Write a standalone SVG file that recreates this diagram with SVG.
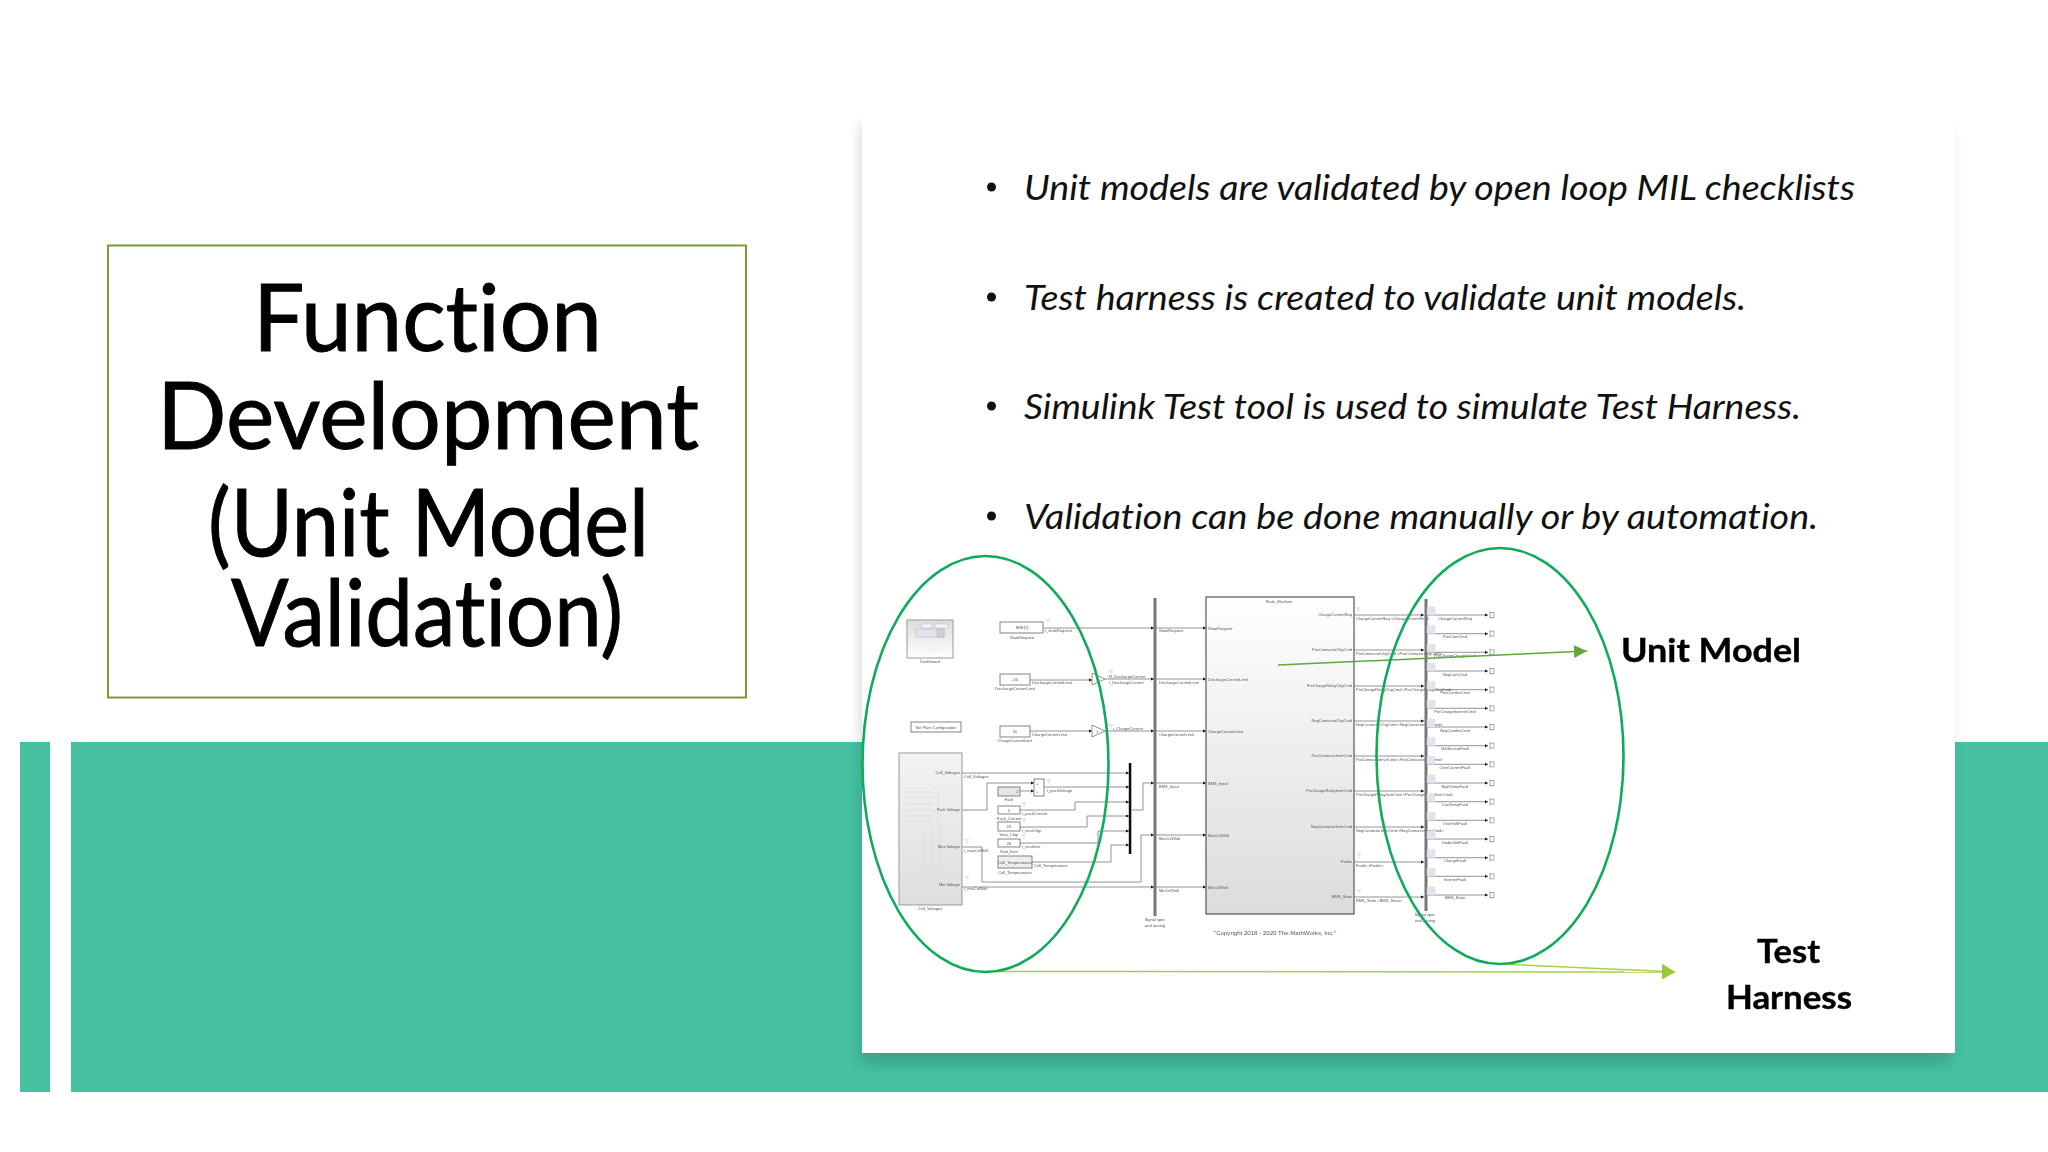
<svg xmlns="http://www.w3.org/2000/svg" width="2048" height="1152" viewBox="0 0 2048 1152">
<style>
text{font-family:"Liberation Sans",Arial,sans-serif;font-variant-ligatures:none}
.title{font-family:Lato,"Open Sans",sans-serif;font-size:94px;fill:#000;stroke:#000;stroke-width:1;text-anchor:start}
.bul{font-family:Lato,"Open Sans",sans-serif;font-style:italic;font-size:34px;fill:#111}
.lab{font-family:Lato,"Open Sans",sans-serif;font-weight:700;font-size:33px;fill:#000;stroke:#000;stroke-width:.4}
.t{font-size:4px;fill:#555}
.c{text-anchor:middle}
.r{text-anchor:end}
.blk{fill:#fff;stroke:#777;stroke-width:.9}
.w{fill:none;stroke:#777;stroke-width:.8}
.wa{fill:none;stroke:#777;stroke-width:.8;marker-end:url(#k)}
.oval{fill:none;stroke:#10AB5A;stroke-width:2.6}
</style>
<defs>
<filter id="sh" x="-5%" y="-5%" width="110%" height="110%"><feGaussianBlur stdDeviation="7"/></filter>
<filter id="soft" x="-2%" y="-2%" width="104%" height="104%"><feGaussianBlur stdDeviation=".25"/></filter>
<linearGradient id="g1" x1="0" y1="0" x2="0" y2="1"><stop offset="0" stop-color="#fff"/><stop offset="1" stop-color="#dcdcdc"/></linearGradient>
<linearGradient id="g2" x1="0" y1="0" x2="0" y2="1"><stop offset="0" stop-color="#f3f3f3"/><stop offset="1" stop-color="#dedede"/></linearGradient>
<marker id="k" markerUnits="userSpaceOnUse" markerWidth="4" markerHeight="4" refX="3.5" refY="1.75" orient="auto"><path d="M0 0L3.5 1.75L0 3.5Z" fill="#111"/></marker>
<marker id="gm" markerUnits="userSpaceOnUse" markerWidth="14" markerHeight="14" refX="13" refY="6.5" orient="auto"><path d="M0 0L13 6.5L0 13Z" fill="#5FA83A"/></marker>
<marker id="gl" markerUnits="userSpaceOnUse" markerWidth="14" markerHeight="16" refX="13" refY="7.5" orient="auto"><path d="M0 0L13 7.5L0 15Z" fill="#9BC83A"/></marker>
<g id="ant"><path d="M-2.5 -2.5h5M-1.8 -1.5h3.6M-1 -.5h2M0 0v2.5" fill="none" stroke="#ccc" stroke-width=".5"/></g>
<rect id="ico" width="8" height="8" fill="#dfe6ee" stroke="#cfd8e2" stroke-width=".4"/>
<path id="op" d="M0 -2.5h5v5h-5M1.2 -2.5v5" fill="#fff" stroke="#888" stroke-width=".7"/>
</defs>

<rect width="2048" height="1152" fill="#fff"/>
<g id="band">
<rect x="20" y="742" width="30" height="350" fill="#45C1A2"/>
<rect x="71" y="742" width="1977" height="350" fill="#45C1A2"/>
</g>

<g id="panel">
<rect x="860" y="125" width="1090" height="939" fill="#000" opacity=".15" filter="url(#sh)"/>
<rect x="862" y="100" width="1093" height="953" fill="#fff"/>
</g>

<g id="title-box">
<rect x="108" y="245.500" width="638" height="452" fill="#fff" stroke="#7D9A3A" stroke-width="2"/>
<text class="title"><tspan x="253" y="351" textLength="349" lengthAdjust="spacingAndGlyphs">Function</tspan><tspan x="157" y="449" textLength="542" lengthAdjust="spacingAndGlyphs">Development</tspan><tspan x="208" y="556" textLength="441" lengthAdjust="spacingAndGlyphs">(Unit Model</tspan><tspan x="231" y="646" textLength="392" lengthAdjust="spacingAndGlyphs">Validation)</tspan></text>
</g>

<g id="bullets">
<circle cx="991.500" cy="187" r="4.500" fill="#111"/>
<text class="bul" x="1024" y="200" textLength="831" lengthAdjust="spacingAndGlyphs">Unit models are validated by open loop MIL checklists</text>
<circle cx="991.500" cy="297" r="4.500" fill="#111"/>
<text class="bul" x="1024" y="310" textLength="722" lengthAdjust="spacingAndGlyphs">Test harness is created to validate unit models.</text>
<circle cx="991.500" cy="406" r="4.500" fill="#111"/>
<text class="bul" x="1024" y="419" textLength="777" lengthAdjust="spacingAndGlyphs">Simulink Test tool is used to simulate Test Harness.</text>
<circle cx="991.500" cy="516" r="4.500" fill="#111"/>
<text class="bul" x="1024" y="529" textLength="794" lengthAdjust="spacingAndGlyphs">Validation can be done manually or by automation.</text>
</g>

<g id="simulink" filter="url(#soft)">
<g id="connectors">
<path class="wa" d="M1043 628H1154"/>
<path class="wa" d="M1156 628H1206"/>
<path class="wa" d="M1030 680H1092"/>
<path class="wa" d="M1105 679H1154"/>
<path class="wa" d="M1156 679H1206"/>
<path class="wa" d="M1030 731H1092"/>
<path class="wa" d="M1105 731H1154"/>
<path class="wa" d="M1156 731H1206"/>
<path class="wa" d="M962 773H1129"/>
<path class="wa" d="M962 810H987V783H1034"/>
<path class="wa" d="M1020 791H1034"/>
<path class="wa" d="M1044 787H1129"/>
<path class="wa" d="M1020 810H1075V802H1129"/>
<path class="wa" d="M1020 827H1087V816H1129"/>
<path class="wa" d="M1020 843H1098V831H1129"/>
<path class="wa" d="M1032 862H1111V845H1129"/>
<path class="wa" d="M1132 810H1143V783H1154"/>
<path class="wa" d="M1156 783H1206"/>
<path class="wa" d="M962 847H982V882H1141V835H1154"/>
<path class="wa" d="M1156 835H1206"/>
<path class="wa" d="M962 887H1154"/>
<path class="wa" d="M1156 887H1206"/>
<path class="wa" d="M1354 615H1424"/>
<path class="wa" d="M1354 650H1424"/>
<path class="wa" d="M1354 686H1424"/>
<path class="wa" d="M1354 721H1424"/>
<path class="wa" d="M1354 756H1424"/>
<path class="wa" d="M1354 791H1424"/>
<path class="wa" d="M1354 827H1424"/>
<path class="wa" d="M1354 862H1424"/>
<path class="wa" d="M1354 897H1424"/>
<path class="wa" d="M1427 615H1488"/>
<path class="wa" d="M1427 633.700H1488"/>
<path class="wa" d="M1427 652.300H1488"/>
<path class="wa" d="M1427 671H1488"/>
<path class="wa" d="M1427 689.700H1488"/>
<path class="wa" d="M1427 708.300H1488"/>
<path class="wa" d="M1427 727H1488"/>
<path class="wa" d="M1427 745.700H1488"/>
<path class="wa" d="M1427 764.300H1488"/>
<path class="wa" d="M1427 783H1488"/>
<path class="wa" d="M1427 801.700H1488"/>
<path class="wa" d="M1427 820.300H1488"/>
<path class="wa" d="M1427 839H1488"/>
<path class="wa" d="M1427 857.700H1488"/>
<path class="wa" d="M1427 876.300H1488"/>
<path class="wa" d="M1427 895H1488"/>
</g>

<g id="signal-icons">
<use href="#ant" x="1048" y="622"/><use href="#ant" x="1111" y="673"/><use href="#ant" x="1111" y="727"/>
<use href="#ant" x="1049" y="782"/><use href="#ant" x="1024" y="805"/><use href="#ant" x="1024" y="821"/>
<use href="#ant" x="1024" y="837"/><use href="#ant" x="967" y="842"/><use href="#ant" x="967" y="879"/>
<use href="#ant" x="1358" y="610"/><use href="#ant" x="1359" y="856"/><use href="#ant" x="1359" y="892"/>
</g>

<g id="dashboard">
<rect x="907" y="620" width="46" height="38" fill="url(#g1)" transform="rotate(180 930 639)" stroke="#999" stroke-width="1"/>
<rect x="922" y="624" width="10" height="4" fill="#f4f4fa" stroke="#aaa" stroke-width=".4"/>
<rect x="935" y="624" width="13" height="4" fill="#f4f4fa" stroke="#aaa" stroke-width=".4"/>
<rect x="916" y="629" width="28" height="8" fill="#e2e2f2" stroke="#aaa" stroke-width=".4"/>
<rect x="937" y="629" width="7" height="8" fill="#cfcfd8" stroke="#aaa" stroke-width=".4"/>
<rect x="928" y="646" width="10" height="6" fill="#f2f2f2"/>
<text class="t c" x="930" y="663">Dashboard</text>
</g>
<g id="state-request">
<rect class="blk" x="1000" y="622" width="43" height="11"/>
<text class="t c" x="1022" y="629">SRE(1)</text>
<text class="t c" x="1022" y="638.500">StateRequest</text>
<text class="t" x="1045" y="632">t_stateRequest</text>
</g>
<g id="discharge-limit">
<rect class="blk" x="1000" y="674" width="30" height="11"/>
<text class="t c" x="1015" y="681">-50</text>
<text class="t c" x="1015" y="690">DischargeCurrentLimit</text>
<text class="t" x="1032" y="683.500">DischargeCurrentLimit</text>
</g>
<g id="discharge-gain">
<path d="M1092 673L1105 679L1092 685Z" fill="#fff" stroke="#777" stroke-width=".8"/>
<text class="t" x="1096" y="681">1</text>
<text class="t" x="1109" y="678">H_DischargeCurrent</text>
<text class="t" x="1109" y="683.500">t_DischargeCurrent</text>
</g>
<g id="charge-limit">
<rect class="blk" x="1000" y="726" width="30" height="11"/>
<text class="t c" x="1015" y="733">20</text>
<text class="t c" x="1015" y="741.500">ChargeCurrentLimit</text>
<text class="t" x="1032" y="736">ChargeCurrentLimit</text>
</g>
<g id="charge-gain">
<path d="M1092 725L1105 731L1092 737Z" fill="#fff" stroke="#777" stroke-width=".8"/>
<text class="t" x="1096" y="733">1</text>
<text class="t" x="1113" y="730">t_ChargeCurrent</text>
</g>
<g id="set-plant">
<rect class="blk" x="911" y="722" width="50" height="10"/>
<text class="t c" x="936" y="728.500">Set Plant Configuration</text>
</g>
<g id="cell-voltages">
<rect x="899" y="753" width="63" height="152" fill="url(#g2)" stroke="#999" stroke-width="1"/>
<path d="M905 792h28M905 798h30M905 804h28M905 810h30M905 816h26M905 822h28M938 790v40M923 830v35M932 828v36M940 827v40M923 845h17M923 865h17" fill="none" stroke="#d2d2d2" stroke-width=".5"/>
<text class="t r" x="960" y="774">Cell_Voltages</text>
<text class="t r" x="960" y="811">Pack Voltage</text>
<text class="t r" x="960" y="848">Max Voltage</text>
<text class="t r" x="960" y="886">Min Voltage</text>
<text class="t c" x="930" y="910">Cell_Voltages</text>
<text class="t" x="964" y="777.500">Cell_Voltages</text>
<text class="t" x="964" y="852">t_maxCellVolt</text>
<text class="t" x="964" y="889.500">t_minCellVolt</text>
</g>
<g id="sum">
<rect class="blk" x="1034" y="779" width="10" height="17"/>
<text class="t" x="1036" y="784.500">+</text>
<text class="t" x="1036" y="793">+</text>
<text class="t" x="1047" y="792">t_packVoltage</text>
</g>
<g id="fault">
<rect x="998" y="787" width="22" height="9" fill="#e6e6e6" stroke="#777" stroke-width=".9"/>
<text class="t" x="1016" y="793">1</text>
<text class="t c" x="1009" y="800.500">Fault</text>
</g>
<g id="pack-current">
<rect class="blk" x="998" y="806" width="22" height="8"/>
<text class="t c" x="1009" y="811.500">5</text>
<text class="t c" x="1009" y="819.500">Pack_Current</text>
<text class="t" x="1022" y="814.500">t_packCurrent</text>
</g>
<g id="vout-chgr">
<rect class="blk" x="998" y="822" width="22" height="9"/>
<text class="t c" x="1009" y="828">24</text>
<text class="t c" x="1009" y="836">Vout_Chgr</text>
<text class="t" x="1022" y="831.500">t_voutChgr</text>
</g>
<g id="vout-invtr">
<rect class="blk" x="998" y="839" width="22" height="8"/>
<text class="t c" x="1009" y="844.500">26</text>
<text class="t c" x="1009" y="852.500">Vout_Invtr</text>
<text class="t" x="1022" y="847.500">t_voutInvtr</text>
</g>
<g id="cell-temperatures">
<rect x="998" y="856" width="34" height="12" fill="#eee" stroke="#777" stroke-width=".9"/>
<text class="t c" x="1015" y="864">Cell_Temperatures</text>
<text class="t c" x="1015" y="873.500">Cell_Temperatures</text>
<text class="t" x="1034" y="866.500">Cell_Temperatures</text>
</g>
<g id="mux"><rect x="1128.800" y="763" width="2.500" height="91" fill="#111"/></g>
<g id="signal-spec-left">
<rect x="1153.500" y="598" width="3" height="318" fill="#777"/>
<text class="t c" x="1155" y="921">Signal spec</text>
<text class="t c" x="1155" y="926.500">and routing</text>
<text class="t" x="1159" y="631.500">StateRequest</text>
<text class="t" x="1159" y="683.500">DischargeCurrentLimit</text>
<text class="t" x="1159" y="736">ChargeCurrentLimit</text>
<text class="t" x="1159" y="788">BMS_Input</text>
<text class="t" x="1159" y="839.500">MaxCellVolt</text>
<text class="t" x="1159" y="891.500">MinCellVolt</text>
</g>
<g id="state-machine">
<rect x="1206" y="597" width="148" height="317" fill="url(#g1)" stroke="#555" stroke-width="1.200"/>
<text class="t c" x="1279" y="603">State_Machine</text>
<text class="t" x="1208" y="629.500">StateRequest</text>
<text class="t" x="1208" y="680.500">DischargeCurrentLimit</text>
<text class="t" x="1208" y="732.500">ChargeCurrentLimit</text>
<text class="t" x="1208" y="784.500">BMS_Input</text>
<text class="t" x="1208" y="836.500">MaxCellVolt</text>
<text class="t" x="1208" y="888.500">MinCellVolt</text>
<text class="t r" x="1352" y="616">ChargeCurrentReq</text>
<text class="t r" x="1352" y="651">PosContactorChgCmd</text>
<text class="t r" x="1352" y="687">PreChargeRelayChgCmd</text>
<text class="t r" x="1352" y="722">NegContactorChgCmd</text>
<text class="t r" x="1352" y="757">PosContactorInvtrCmd</text>
<text class="t r" x="1352" y="792">PreChargeRelayInvtrCmd</text>
<text class="t r" x="1352" y="828">NegContactorInvtrCmd</text>
<text class="t r" x="1352" y="863">Faults</text>
<text class="t r" x="1352" y="898">BMS_State</text>
</g>
<g id="state-machine-outputs">
<text class="t" x="1356" y="620">ChargeCurrentReq &lt;ChargeCurrentReq&gt;</text>
<text class="t" x="1356" y="655">PosContactorChgCmd &lt;PosContactorChgCmd&gt;</text>
<text class="t" x="1356" y="690.500">PreChargeRelayChgCmd &lt;PreChargeRelayChgCmd&gt;</text>
<text class="t" x="1356" y="725.500">NegContactorChgCmd &lt;NegContactorChgCmd&gt;</text>
<text class="t" x="1356" y="760.500">PosContactorInvtrCmd &lt;PosContactorInvtrCmd&gt;</text>
<text class="t" x="1356" y="796">PreChargeRelayInvtrCmd &lt;PreChargeRelayInvtrCmd&gt;</text>
<text class="t" x="1356" y="831.500">NegContactorInvtrCmd &lt;NegContactorInvtrCmd&gt;</text>
<text class="t" x="1356" y="866.500">Faults &lt;Faults&gt;</text>
<text class="t" x="1356" y="901.500">BMS_State &lt;BMS_State&gt;</text>
</g>
<g id="signal-spec-right">
<rect x="1424.500" y="599" width="3" height="312" fill="#777"/>
<text class="t c" x="1425" y="916">Signal spec</text>
<text class="t c" x="1425" y="921.500">and routing</text>
</g>
<g id="outports">
<use href="#ico" x="1427" y="607"/><use href="#op" x="1489" y="615"/><text class="t c" x="1455" y="619.500">ChargeCurrentReq</text>
<use href="#ico" x="1427" y="625.700"/><use href="#op" x="1489" y="633.700"/><text class="t c" x="1455" y="638">PosContCmd</text>
<use href="#ico" x="1427" y="644.300"/><use href="#op" x="1489" y="652.300"/><text class="t c" x="1455" y="656.500">PreChargeChargerCmd</text>
<use href="#ico" x="1427" y="663"/><use href="#op" x="1489" y="671"/><text class="t c" x="1455" y="675.500">NegContCmd</text>
<use href="#ico" x="1427" y="681.700"/><use href="#op" x="1489" y="689.700"/><text class="t c" x="1455" y="694">PosContInvCmd</text>
<use href="#ico" x="1427" y="700.300"/><use href="#op" x="1489" y="708.300"/><text class="t c" x="1455" y="712.500">PreChargeInverterCmd</text>
<use href="#ico" x="1427" y="719"/><use href="#op" x="1489" y="727"/><text class="t c" x="1455" y="731.500">NegContInvCmd</text>
<use href="#ico" x="1427" y="737.700"/><use href="#op" x="1489" y="745.700"/><text class="t c" x="1455" y="750">VoltSensorFault</text>
<use href="#ico" x="1427" y="756.300"/><use href="#op" x="1489" y="764.300"/><text class="t c" x="1455" y="769">OverCurrentFault</text>
<use href="#ico" x="1427" y="775"/><use href="#op" x="1489" y="783"/><text class="t c" x="1455" y="787.500">HighTempFault</text>
<use href="#ico" x="1427" y="793.700"/><use href="#op" x="1489" y="801.700"/><text class="t c" x="1455" y="806">LowTempFault</text>
<use href="#ico" x="1427" y="812.300"/><use href="#op" x="1489" y="820.300"/><text class="t c" x="1455" y="825">OverVoltFault</text>
<use href="#ico" x="1427" y="831"/><use href="#op" x="1489" y="839"/><text class="t c" x="1455" y="843.500">UnderVoltFault</text>
<use href="#ico" x="1427" y="849.700"/><use href="#op" x="1489" y="857.700"/><text class="t c" x="1455" y="862">ChargeFault</text>
<use href="#ico" x="1427" y="868.300"/><use href="#op" x="1489" y="876.300"/><text class="t c" x="1455" y="880.500">InverterFault</text>
<use href="#ico" x="1427" y="887"/><use href="#op" x="1489" y="895"/><text class="t c" x="1455" y="899">BMS_State</text>
</g>
<text id="copyright" x="1214" y="935" style="font-size:6.100px;fill:#555">"Copyright 2018 - 2020 The MathWorks, Inc."</text>
</g>

<g id="annotation-connectors">
<path d="M1278 665L1587 651" fill="none" stroke="#5FA83A" stroke-width="1.500" marker-end="url(#gm)"/>
<path d="M985 971.500L1675 972" fill="none" stroke="#A8D04A" stroke-width="1.500" marker-end="url(#gl)"/>
<path d="M1500 964L1675 972" fill="none" stroke="#A8D04A" stroke-width="1.500" marker-end="url(#gl)"/>
</g>
<g id="test-harness-oval"><ellipse class="oval" cx="985.500" cy="764" rx="123" ry="208"/></g>
<g id="unit-model-oval"><ellipse class="oval" cx="1500" cy="756" rx="123.500" ry="208"/></g>

<g id="label-unit-model"><text class="lab" x="1621" y="662" textLength="180" lengthAdjust="spacingAndGlyphs">Unit Model</text></g>
<g id="label-test-harness">
<text class="lab" x="1757" y="963" textLength="63" lengthAdjust="spacingAndGlyphs">Test</text>
<text class="lab" x="1726" y="1009" textLength="126" lengthAdjust="spacingAndGlyphs">Harness</text>
</g>
</svg>
